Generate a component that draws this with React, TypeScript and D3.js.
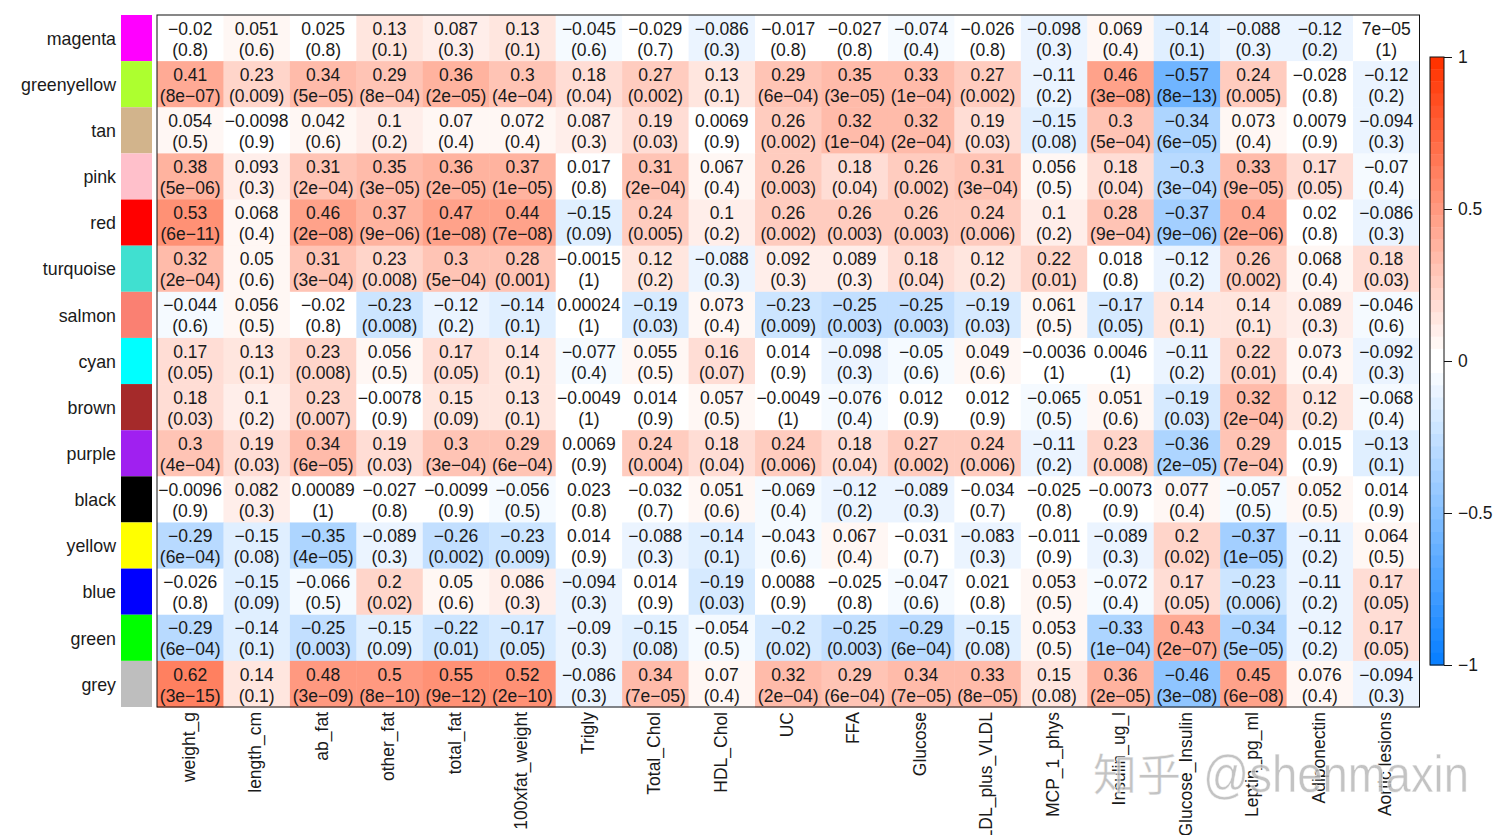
import React, { useEffect, useRef } from 'react';
import * as d3 from 'd3';

const modules = ['magenta', 'greenyellow', 'tan', 'pink', 'red', 'turquoise', 'salmon', 'cyan', 'brown', 'purple', 'black', 'yellow', 'blue', 'green', 'grey'];
const moduleColors = ['#ff00ff', '#adff2f', '#d2b48c', '#ffc0cb', '#ff0000', '#40e0d0', '#fa8072', '#00ffff', '#a52a2a', '#a020f0', '#000000', '#ffff00', '#0000ff', '#00ff00', '#bebebe'];
const traits = ['weight_g', 'length_cm', 'ab_fat', 'other_fat', 'total_fat', '100xfat_weight', 'Trigly', 'Total_Chol', 'HDL_Chol', 'UC', 'FFA', 'Glucose', 'LDL_plus_VLDL', 'MCP_1_phys', 'Insulin_ug_l', 'Glucose_Insulin', 'Leptin_pg_ml', 'Adiponectin', 'Aortic lesions'];

// correlation per module, same order as traits
const corMagenta = ['-0.02', '0.051', '0.025', '0.13', '0.087', '0.13', '-0.045', '-0.029', '-0.086', '-0.017', '-0.027', '-0.074', '-0.026', '-0.098', '0.069', '-0.14', '-0.088', '-0.12', '7e-05'];
const corGreenyellow = ['0.41', '0.23', '0.34', '0.29', '0.36', '0.3', '0.18', '0.27', '0.13', '0.29', '0.35', '0.33', '0.27', '-0.11', '0.46', '-0.57', '0.24', '-0.028', '-0.12'];
const corTan = ['0.054', '-0.0098', '0.042', '0.1', '0.07', '0.072', '0.087', '0.19', '0.0069', '0.26', '0.32', '0.32', '0.19', '-0.15', '0.3', '-0.34', '0.073', '0.0079', '-0.094'];
const corPink = ['0.38', '0.093', '0.31', '0.35', '0.36', '0.37', '0.017', '0.31', '0.067', '0.26', '0.18', '0.26', '0.31', '0.056', '0.18', '-0.3', '0.33', '0.17', '-0.07'];
const corRed = ['0.53', '0.068', '0.46', '0.37', '0.47', '0.44', '-0.15', '0.24', '0.1', '0.26', '0.26', '0.26', '0.24', '0.1', '0.28', '-0.37', '0.4', '0.02', '-0.086'];
const corTurquoise = ['0.32', '0.05', '0.31', '0.23', '0.3', '0.28', '-0.0015', '0.12', '-0.088', '0.092', '0.089', '0.18', '0.12', '0.22', '0.018', '-0.12', '0.26', '0.068', '0.18'];
const corSalmon = ['-0.044', '0.056', '-0.02', '-0.23', '-0.12', '-0.14', '0.00024', '-0.19', '0.073', '-0.23', '-0.25', '-0.25', '-0.19', '0.061', '-0.17', '0.14', '0.14', '0.089', '-0.046'];
const corCyan = ['0.17', '0.13', '0.23', '0.056', '0.17', '0.14', '-0.077', '0.055', '0.16', '0.014', '-0.098', '-0.05', '0.049', '-0.0036', '0.0046', '-0.11', '0.22', '0.073', '-0.092'];
const corBrown = ['0.18', '0.1', '0.23', '-0.0078', '0.15', '0.13', '-0.0049', '0.014', '0.057', '-0.0049', '-0.076', '0.012', '0.012', '-0.065', '0.051', '-0.19', '0.32', '0.12', '-0.068'];
const corPurple = ['0.3', '0.19', '0.34', '0.19', '0.3', '0.29', '0.0069', '0.24', '0.18', '0.24', '0.18', '0.27', '0.24', '-0.11', '0.23', '-0.36', '0.29', '0.015', '-0.13'];
const corBlack = ['-0.0096', '0.082', '0.00089', '-0.027', '-0.0099', '-0.056', '0.023', '-0.032', '0.051', '-0.069', '-0.12', '-0.089', '-0.034', '-0.025', '-0.0073', '0.077', '-0.057', '0.052', '0.014'];
const corYellow = ['-0.29', '-0.15', '-0.35', '-0.089', '-0.26', '-0.23', '0.014', '-0.088', '-0.14', '-0.043', '0.067', '-0.031', '-0.083', '-0.011', '-0.089', '0.2', '-0.37', '-0.11', '0.064'];
const corBlue = ['-0.026', '-0.15', '-0.066', '0.2', '0.05', '0.086', '-0.094', '0.014', '-0.19', '0.0088', '-0.025', '-0.047', '0.021', '0.053', '-0.072', '0.17', '-0.23', '-0.11', '0.17'];
const corGreen = ['-0.29', '-0.14', '-0.25', '-0.15', '-0.22', '-0.17', '-0.09', '-0.15', '-0.054', '-0.2', '-0.25', '-0.29', '-0.15', '0.053', '-0.33', '0.43', '-0.34', '-0.12', '0.17'];
const corGrey = ['0.62', '0.14', '0.48', '0.5', '0.55', '0.52', '-0.086', '0.34', '0.07', '0.32', '0.29', '0.34', '0.33', '0.15', '0.36', '-0.46', '0.45', '0.076', '-0.094'];

// p values per module
const pMagenta = ['0.8', '0.6', '0.8', '0.1', '0.3', '0.1', '0.6', '0.7', '0.3', '0.8', '0.8', '0.4', '0.8', '0.3', '0.4', '0.1', '0.3', '0.2', '1'];
const pGreenyellow = ['8e-07', '0.009', '5e-05', '8e-04', '2e-05', '4e-04', '0.04', '0.002', '0.1', '6e-04', '3e-05', '1e-04', '0.002', '0.2', '3e-08', '8e-13', '0.005', '0.8', '0.2'];
const pTan = ['0.5', '0.9', '0.6', '0.2', '0.4', '0.4', '0.3', '0.03', '0.9', '0.002', '1e-04', '2e-04', '0.03', '0.08', '5e-04', '6e-05', '0.4', '0.9', '0.3'];
const pPink = ['5e-06', '0.3', '2e-04', '3e-05', '2e-05', '1e-05', '0.8', '2e-04', '0.4', '0.003', '0.04', '0.002', '3e-04', '0.5', '0.04', '3e-04', '9e-05', '0.05', '0.4'];
const pRed = ['6e-11', '0.4', '2e-08', '9e-06', '1e-08', '7e-08', '0.09', '0.005', '0.2', '0.002', '0.003', '0.003', '0.006', '0.2', '9e-04', '9e-06', '2e-06', '0.8', '0.3'];
const pTurquoise = ['2e-04', '0.6', '3e-04', '0.008', '5e-04', '0.001', '1', '0.2', '0.3', '0.3', '0.3', '0.04', '0.2', '0.01', '0.8', '0.2', '0.002', '0.4', '0.03'];
const pSalmon = ['0.6', '0.5', '0.8', '0.008', '0.2', '0.1', '1', '0.03', '0.4', '0.009', '0.003', '0.003', '0.03', '0.5', '0.05', '0.1', '0.1', '0.3', '0.6'];
const pCyan = ['0.05', '0.1', '0.008', '0.5', '0.05', '0.1', '0.4', '0.5', '0.07', '0.9', '0.3', '0.6', '0.6', '1', '1', '0.2', '0.01', '0.4', '0.3'];
const pBrown = ['0.03', '0.2', '0.007', '0.9', '0.09', '0.1', '1', '0.9', '0.5', '1', '0.4', '0.9', '0.9', '0.5', '0.6', '0.03', '2e-04', '0.2', '0.4'];
const pPurple = ['4e-04', '0.03', '6e-05', '0.03', '3e-04', '6e-04', '0.9', '0.004', '0.04', '0.006', '0.04', '0.002', '0.006', '0.2', '0.008', '2e-05', '7e-04', '0.9', '0.1'];
const pBlack = ['0.9', '0.3', '1', '0.8', '0.9', '0.5', '0.8', '0.7', '0.6', '0.4', '0.2', '0.3', '0.7', '0.8', '0.9', '0.4', '0.5', '0.5', '0.9'];
const pYellow = ['6e-04', '0.08', '4e-05', '0.3', '0.002', '0.009', '0.9', '0.3', '0.1', '0.6', '0.4', '0.7', '0.3', '0.9', '0.3', '0.02', '1e-05', '0.2', '0.5'];
const pBlue = ['0.8', '0.09', '0.5', '0.02', '0.6', '0.3', '0.3', '0.9', '0.03', '0.9', '0.8', '0.6', '0.8', '0.5', '0.4', '0.05', '0.006', '0.2', '0.05'];
const pGreen = ['6e-04', '0.1', '0.003', '0.09', '0.01', '0.05', '0.3', '0.08', '0.5', '0.02', '0.003', '6e-04', '0.08', '0.5', '1e-04', '2e-07', '5e-05', '0.2', '0.05'];
const pGrey = ['3e-15', '0.1', '3e-09', '8e-10', '9e-12', '2e-10', '0.3', '7e-05', '0.4', '2e-04', '6e-04', '7e-05', '8e-05', '0.08', '2e-05', '3e-08', '6e-08', '0.4', '0.3'];

const corRows = [corMagenta, corGreenyellow, corTan, corPink, corRed, corTurquoise, corSalmon, corCyan, corBrown, corPurple, corBlack, corYellow, corBlue, corGreen, corGrey];
const pRows = [pMagenta, pGreenyellow, pTan, pPink, pRed, pTurquoise, pSalmon, pCyan, pBrown, pPurple, pBlack, pYellow, pBlue, pGreen, pGrey];

const legendTicks = [1, 0.5, 0, -0.5, -1];

const width = 1507;
const height = 835;
const font = '"Liberation Sans", Arial, sans-serif';
const minus = (s: string) => s.replace(/-/g, '\u2212');

const App: React.FC = () => {
  const svgRef = useRef<SVGSVGElement>(null);

  useEffect(() => {
    if (!svgRef.current) return;
    const svg = d3.select(svgRef.current);
    svg.selectAll('*').remove();
    svg.attr('font-family', font).attr('font-size', 17.5).attr('fill', '#1a1a1a');

    const plot = { left: 157, right: 1419.5, top: 15, bottom: 707 };
    const x = d3.scaleBand<string>().domain(traits).range([plot.left, plot.right]);
    const y = d3.scaleBand<string>().domain(modules).range([plot.top, plot.bottom]);

    // 25 blue steps and 25 red steps, the two middle ones are white
    const half = 25;
    const blues = d3.range(half).map(i => d3.interpolateRgb('#0a80ff', '#ffffff')(i / (half - 1)));
    const reds = d3.range(half).map(i => d3.interpolateRgb('#ffffff', '#ff3300')(i / (half - 1)));
    const palette = [...blues, ...reds];
    const binned = d3.scaleQuantize<string>().domain([-1, 1]).range(palette);

    // module colour strip
    svg.append('g')
      .selectAll('rect')
      .data(modules)
      .enter().append('rect')
      .attr('x', 121)
      .attr('width', 31)
      .attr('y', d => y(d) as number)
      .attr('height', y.bandwidth())
      .attr('fill', (_, i) => moduleColors[i]);

    // module labels
    svg.append('g')
      .selectAll('text')
      .data(modules)
      .enter().append('text')
      .attr('x', 116)
      .attr('y', d => (y(d) as number) + y.bandwidth() / 2 + 0.5)
      .attr('dy', '0.35em')
      .attr('text-anchor', 'end')
      .attr('font-size', 17.8)
      .text(d => d);

    // cells
    const rows = svg.append('g')
      .selectAll('g')
      .data(modules)
      .enter().append('g')
      .attr('transform', d => `translate(0,${y(d)})`);

    rows.each(function (_, r) {
      const row = d3.select(this);
      traits.forEach((t, c) => {
        row.append('rect')
          .attr('x', x(t) as number)
          .attr('width', x.bandwidth() + 0.5)
          .attr('height', y.bandwidth() + 0.5)
          .attr('fill', binned(Number(corRows[r][c])));
      });
      traits.forEach((t, c) => {
        const cx = (x(t) as number) + x.bandwidth() / 2;
        row.append('text')
          .attr('x', cx)
          .attr('y', 19.7)
          .attr('text-anchor', 'middle')
          .text(minus(corRows[r][c]));
        row.append('text')
          .attr('x', cx)
          .attr('y', 40.7)
          .attr('text-anchor', 'middle')
          .text(`(${minus(pRows[r][c])})`);
      });
    });

    // frame
    svg.append('rect')
      .attr('x', plot.left)
      .attr('y', plot.top)
      .attr('width', plot.right - plot.left)
      .attr('height', plot.bottom - plot.top)
      .attr('fill', 'none')
      .attr('stroke', '#111')
      .attr('stroke-width', 1);

    // trait labels, clipped by the page edge like the original
    svg.append('g')
      .selectAll('text')
      .data(traits)
      .enter().append('text')
      .attr('transform', d => `translate(${(x(d) as number) + x.bandwidth() / 2 + 4.7},712) rotate(-90)`)
      .attr('text-anchor', 'end')
      .text(d => d);

    // legend
    const legendY = d3.scaleLinear().domain([1, -1]).range([57, 665]);
    const legend = svg.append('g');
    const stepH = (legendY(-1) - legendY(1)) / palette.length;
    legend.selectAll('rect')
      .data(palette.slice().reverse())
      .enter().append('rect')
      .attr('x', 1430)
      .attr('width', 14)
      .attr('y', (_, i) => legendY(1) + i * stepH)
      .attr('height', stepH + 0.5)
      .attr('fill', d => d);
    legend.append('rect')
      .attr('x', 1430)
      .attr('y', legendY(1))
      .attr('width', 14)
      .attr('height', legendY(-1) - legendY(1))
      .attr('fill', 'none')
      .attr('stroke', '#111')
      .attr('stroke-width', 1);
    const axis = d3.axisRight(legendY)
      .tickValues(legendTicks)
      .tickSize(8)
      .tickPadding(6)
      .tickFormat(d => minus(String(d)));
    const axisG = legend.append('g')
      .attr('transform', 'translate(1444,0)')
      .call(axis);
    axisG.select('.domain').remove();
    axisG.selectAll('line').attr('stroke', '#111');
    axisG.selectAll('text')
      .attr('font-family', font)
      .attr('font-size', 17.5)
      .attr('fill', '#1a1a1a');

    // site watermark
    const mark = svg.append('g')
      .attr('fill', '#b8b8b8')
      .attr('fill-opacity', 0.85)
      .attr('stroke', '#ffffff')
      .attr('stroke-width', 0.8)
      .attr('stroke-opacity', 0.7);
    mark.append('text')
      .attr('x', 1093)
      .attr('y', 791)
      .attr('font-family', '"Noto Sans CJK SC", sans-serif')
      .attr('font-size', 44)
      .text('知乎');
    mark.append('text')
      .attr('x', 1203)
      .attr('y', 792)
      .attr('font-family', '"Liberation Sans", sans-serif')
      .attr('font-size', 52)
      .attr('textLength', 266)
      .attr('lengthAdjust', 'spacingAndGlyphs')
      .text('@shenmaxin');
  }, []);

  return (
    <svg
      ref={svgRef}
      width={width}
      height={height}
      style={{ position: 'absolute', left: 0, top: 0, display: 'block', background: '#fff' }}
    />
  );
};

export default App;
